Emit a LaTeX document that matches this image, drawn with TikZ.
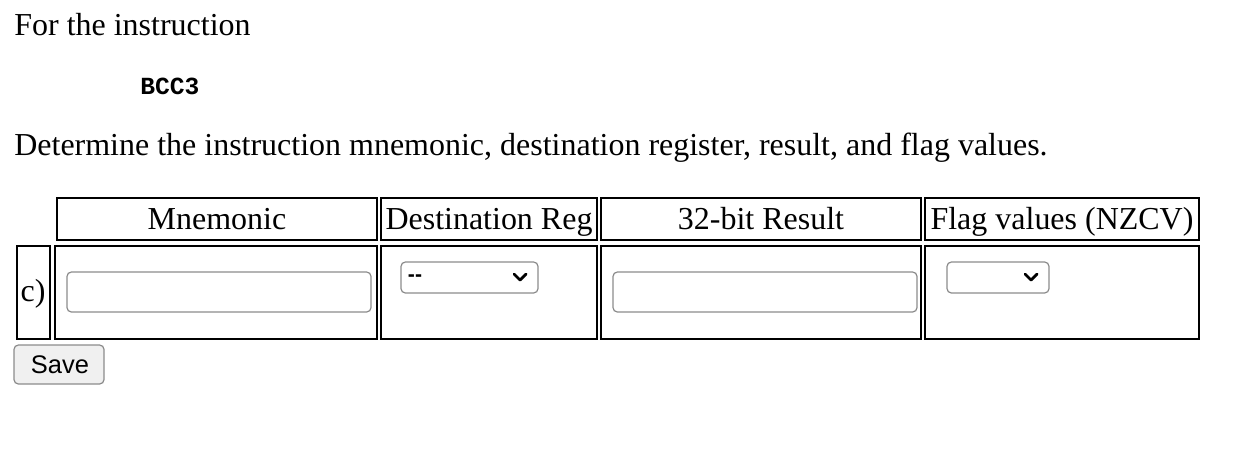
\documentclass[tikz,border=0pt]{standalone}
\usepackage{fontspec}
\setmainfont{Liberation Serif}
\setsansfont{Liberation Sans}
\setmonofont{Liberation Mono}
\begin{document}
\begin{tikzpicture}[x=0.02cm,y=-0.02cm,
  cell/.style={draw,line width=1.1pt},
  field/.style={draw=gray!90,line width=0.7pt,rounded corners=2.5pt},
  txt/.style={font=\fontsize{18.2}{20}\selectfont,inner sep=0pt},
  chev/.style={line width=1.6pt,line cap=round,line join=round}]
\useasboundingbox (0,0) rectangle (1250,454);
\node[txt,anchor=base west] (t1) at (14,35) {For the instruction};
\node[anchor=base west,inner sep=0pt,font=\ttfamily\bfseries\fontsize{14}{16}\selectfont] (t2) at (140,94) {BCC3};
\node[txt,anchor=base west] (t3) at (14,155) {Determine the instruction mnemonic, destination register, result, and flag values.};
% headers
\draw[cell] (57,198) rectangle (377,240);
\draw[cell] (381,198) rectangle (597,240);
\draw[cell] (601,198) rectangle (921,240);
\draw[cell] (925,198) rectangle (1199,240);
\node[txt,anchor=base] (h1) at (217,229) {Mnemonic};
\node[txt,anchor=base] (h2) at (489,229) {Destination Reg};
\node[txt,anchor=base] (h3) at (761,229) {32-bit Result};
\node[txt,anchor=base] (h4) at (1062,229) {Flag values (NZCV)};
% row
\draw[cell] (17,246) rectangle (50,339);
\draw[cell] (55,246) rectangle (377,339);
\draw[cell] (381,246) rectangle (597,339);
\draw[cell] (601,246) rectangle (921,339);
\draw[cell] (925,246) rectangle (1199,339);
\node[txt,anchor=base] (c) at (33,301) {c)};
\draw[field] (67,272) rectangle (371,312);
\draw[field] (613,272) rectangle (917,312);
\draw[field] (401,262) rectangle (538,293);
\draw[field] (947,262) rectangle (1049,293);
\node[inner sep=0pt,font=\sffamily\bfseries\fontsize{12}{13}\selectfont] (d) at (415,278) {-{}-};
\draw[chev] (514,274) -- (520,280) -- (526,274);
\draw[chev] (1025,274) -- (1031,280) -- (1037,274);
% save button
\draw[draw=gray!90,fill=black!6,line width=0.7pt,rounded corners=2.5pt] (14,345) rectangle (104,384);
\node[inner sep=0pt,font=\sffamily\fontsize{14.5}{16}\selectfont] (save) at (60,364.5) {Save};
\end{tikzpicture}
\end{document}
